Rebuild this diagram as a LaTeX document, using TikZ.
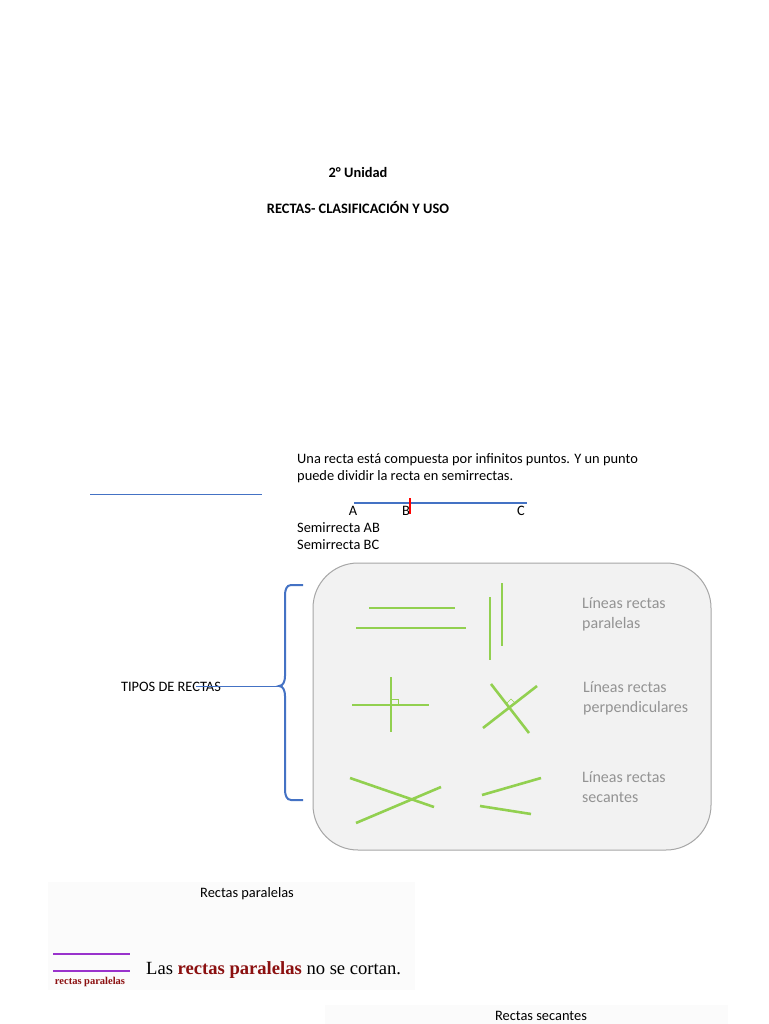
\documentclass[tikz,border=0pt]{standalone}
\usepackage{fontspec}
\setmainfont{Carlito}
\newfontfamily\serifx{Liberation Serif}
\begin{document}
\begin{tikzpicture}[x=1pt,y=-1pt]
\definecolor{gr}{HTML}{92D050}
\definecolor{bl}{HTML}{4472C4}
\definecolor{dred}{HTML}{8B1010}
\definecolor{purp}{HTML}{9933CC}
\tikzset{
  txt/.style={inner sep=0pt,font=\fontsize{14.4}{17}\selectfont},
  btxt/.style={inner sep=0pt,font=\bfseries\fontsize{14.4}{17}\selectfont},
  glab/.style={inner sep=0pt,anchor=west,text=gray!85,font=\fontsize{16}{20}\selectfont,align=left},
  gline/.style={draw=gr,line width=2.6pt}}
\useasboundingbox (0,0) rectangle (768,1024);
\fill[white] (0,0) rectangle (768,1024);
\node[btxt] (t1) at (358,173) {2° Unidad};
\node[btxt] (t2) at (358,208) {RECTAS- CLASIFICACIÓN Y USO};
\draw[bl,line width=0.7pt] (90,494) -- (262,494);
\node[txt,anchor=west,align=left] (intro) at (297,468.5) {Una recta está compuesta por infinitos puntos. Y un punto\\puede dividir la recta en semirrectas.};
\coordinate (la) at (354,503); \coordinate (lc) at (527,503);
\draw[bl,line width=1.5pt] (la) -- (lc);
\draw[red,line width=1.5pt] (410,498) -- (410,514);
\node[txt] (A) at (353,511) {A};
\node[txt] (B) at (406,511) {B};
\node[txt] (C) at (521,511) {C};
\node[txt,anchor=west] (sab) at (297,528) {Semirrecta AB};
\node[txt,anchor=west] (sbc) at (297,545) {Semirrecta BC};
\draw[fill=black!5,draw=black!35,line width=1pt,rounded corners=45pt] (313,563) rectangle (711,850);
\draw[bl,line width=2pt] (303,585) -- (291,585) to[out=180,in=90] (285,595) -- (285,676) to[out=-90,in=0] (279,686) to[out=0,in=90] (285,696) -- (285,790) to[out=-90,in=180] (291,800) -- (303,800);
\node[txt] (tipos) at (171,687) {TIPOS DE RECTAS};
\coordinate (tip) at (279,686);
\draw[bl,line width=1pt] (196,686) -- (tip);
% paralelas
\draw[gline] (369,608) -- (455,608);
\draw[gline] (356,628) -- (466,628);
\draw[gline] (490,597) -- (490,660);
\draw[gline] (502,583) -- (502,646);
% perpendiculares
\draw[gline] (352,705) -- (429,705);
\draw[gline] (391,677) -- (391,732);
\draw[gr,line width=0.5pt] (391,699) -- (398,699) -- (398,705);
\draw[gline] (491,684) -- (529,733);
\draw[gline] (483,728) -- (537,686);
\draw[gr,line width=0.5pt] (506,704) -- (511,699) -- (515,703);
% secantes
\draw[gline] (350,778) -- (434,807);
\draw[gline] (356,823) -- (441,787);
\draw[gline] (482,795) -- (541,778);
\draw[gline] (480,806) -- (531,814);
\node[glab] (l1) at (582,614) {Líneas rectas\\paralelas};
\node[glab] (l2) at (583,698) {Líneas rectas\\perpendiculares};
\node[glab] (l3) at (582,787) {Líneas rectas\\secantes};
% bottom
\fill[black!1.5] (48,882) rectangle (415,990);
\node[txt] (rp) at (247,894) {Rectas paralelas};
\draw[purp,line width=1.5pt] (53,954) -- (130,954);
\draw[purp,line width=1.5pt] (53,971) -- (130,971);
\node[inner sep=0pt,text=dred,font=\serifx\bfseries\fontsize{10.5}{11}\selectfont] (rps) at (90,982) {rectas paralelas};
\node[inner sep=0pt,anchor=west,font=\serifx\fontsize{18.6}{20}\selectfont] (las) at (146,970) {Las \textcolor{dred}{\textbf{rectas paralelas}} no se cortan.};
\fill[black!1.5] (325,1005) rectangle (728,1024);
\node[txt] (rs) at (541,1016) {Rectas secantes};
\end{tikzpicture}
\end{document}
